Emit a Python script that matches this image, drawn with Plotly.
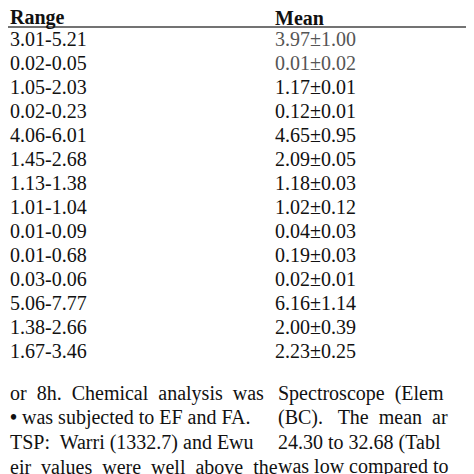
import plotly.graph_objects as go

ranges = ["3.01-5.21","0.02-0.05","1.05-2.03","0.02-0.23","4.06-6.01","1.45-2.68","1.13-1.38",
          "1.01-1.04","0.01-0.09","0.01-0.68","0.03-0.06","5.06-7.77","1.38-2.66","1.67-3.46"]
means = ["3.97±1.00","0.01±0.02","1.17±0.01","0.12±0.01","4.65±0.95","2.09±0.05","1.18±0.03",
         "1.02±0.12","0.04±0.03","0.19±0.03","0.02±0.01","6.16±1.14","2.00±0.39","2.23±0.25"]
left_text = ["or  8h.  Chemical  analysis  was", "<b>•</b> was subjected to EF and FA.",
             "TSP:  Warri (1332.7) and Ewu", "eir  values  were  well  above  the"]
right_text = ["Spectroscope  (Elem", "(BC).   The  mean  ar", "24.30 to 32.68 (Tabl", "was low compared to"]

W = H = 474
FAM = "Liberation Serif, Times New Roman, DejaVu Serif, serif"
font = dict(family=FAM, size=20, color="#111")
fig = go.Figure()
ann = []
def py(y): return 1 - y / H
ann.append(dict(x=0, y=py(10), text="<b>Range</b>", xanchor="left"))
ann.append(dict(x=265 / W, y=py(10), text="<b>Mean</b>", xanchor="left"))
for i, (r, m) in enumerate(zip(ranges, means)):
    y = 31 + i * 24.0
    ann.append(dict(x=0, y=py(y), text=r, xanchor="left"))
    ann.append(dict(x=265 / W, y=py(y), text=m, xanchor="left",
                    font=dict(family=FAM, size=20, color="#555" if i < 2 else "#111")))
for i, t in enumerate(left_text):
    ann.append(dict(x=0, y=py(385 + i * 24.5), text=t, xanchor="left"))
for i, t in enumerate(right_text):
    ann.append(dict(x=268 / W, y=py(385 + i * 24.5), text=t, xanchor="left"))
for a in ann:
    a.update(xref="paper", yref="paper", yanchor="middle", showarrow=False)
    a.setdefault("font", font)
fig.update_layout(annotations=ann, width=W, height=H, margin=dict(l=0, r=0, t=0, b=0),
                  paper_bgcolor="white", plot_bgcolor="white",
                  xaxis=dict(visible=False), yaxis=dict(visible=False),
                  shapes=[dict(type="line", xref="paper", yref="paper", x0=0, x1=1,
                               y0=py(19), y1=py(19), line=dict(color="#444", width=1.5))])
fig.write_html("out.html")
